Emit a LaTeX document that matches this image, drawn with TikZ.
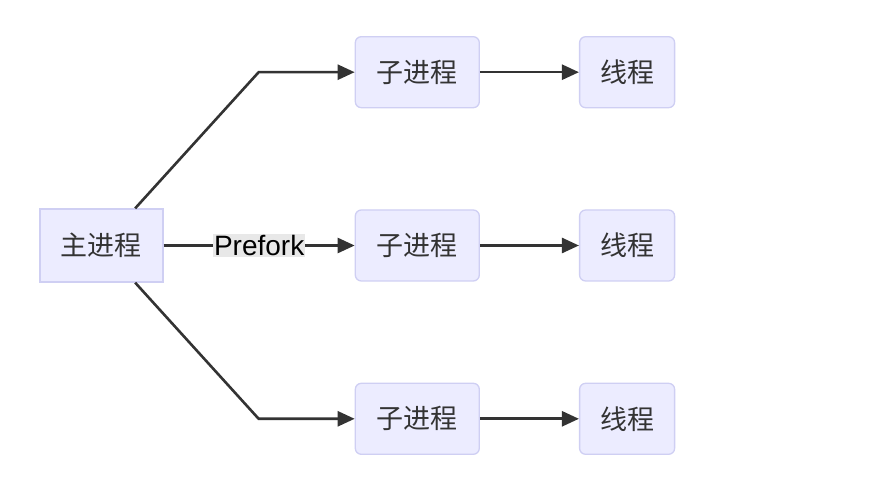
\documentclass[tikz,border=0pt]{standalone}
\usepackage{fontspec}
\setmainfont{Liberation Sans}
\newfontfamily\cjk{Noto Sans CJK SC}
\usepackage{xcolor}
\usepackage{tikz}
\usetikzlibrary{arrows.meta}
\usetikzlibrary{positioning}
\definecolor{boxfill}{HTML}{ECECFF}
\definecolor{boxline}{HTML}{CFCFF3}
\definecolor{edgeline}{HTML}{333333}
\definecolor{labelbg}{HTML}{E8E8E8}
\tikzset{%
  base/.style = {rectangle, line width=1.3pt, draw=boxline, fill=boxfill, text=edgeline, minimum height=71pt, font=\cjk\fontsize{27}{32}\selectfont},
  proc/.style = {rounded corners=6pt, minimum width=124pt},
  thread/.style = {rounded corners=6pt, minimum width=95pt}
}

\begin{document}
\begin{tikzpicture}[%
    node distance=101pt,
    >={Triangle[length=17pt,width=15pt]},
    line width=2.6pt]

  \useasboundingbox (-101.5pt,-254.5pt) rectangle (787.5pt,245.5pt);

  % Specification of nodes (position, etc.)
  \node (main) [base, minimum width=123pt, minimum height=73pt] {主进程};
  \node (child-b) [base, proc, right=191pt of main] {子进程};
  \node (child-a) [base, proc, above=of child-b] {子进程};
  \node (child-c) [base, proc, below=of child-b] {子进程};
  \node (thread-a) [base, thread, right=99pt of child-a] {线程};
  \node (thread-b) [base, thread, right=99pt of child-b] {线程};
  \node (thread-c) [base, thread, right=99pt of child-c] {线程};

  \coordinate (bend-a) at ([xshift=-96pt]child-a.west);
  \coordinate (bend-c) at ([xshift=-96pt]child-c.west);

  \draw[->, edgeline] (main) -- (bend-a) -- (child-a);
  \draw[->, edgeline] (main) -- node[fill=labelbg, text=black, inner sep=1pt, font=\fontsize{28}{32}\selectfont] {Prefork} (child-b);
  \draw[->, edgeline] (main) -- (bend-c) -- (child-c);
  \draw[->, edgeline] (child-a) -- (thread-a);
  \draw[->, edgeline] (child-b) -- (thread-b);
  \draw[->, edgeline] (child-c) -- (thread-c);
\end{tikzpicture}
\end{document}
